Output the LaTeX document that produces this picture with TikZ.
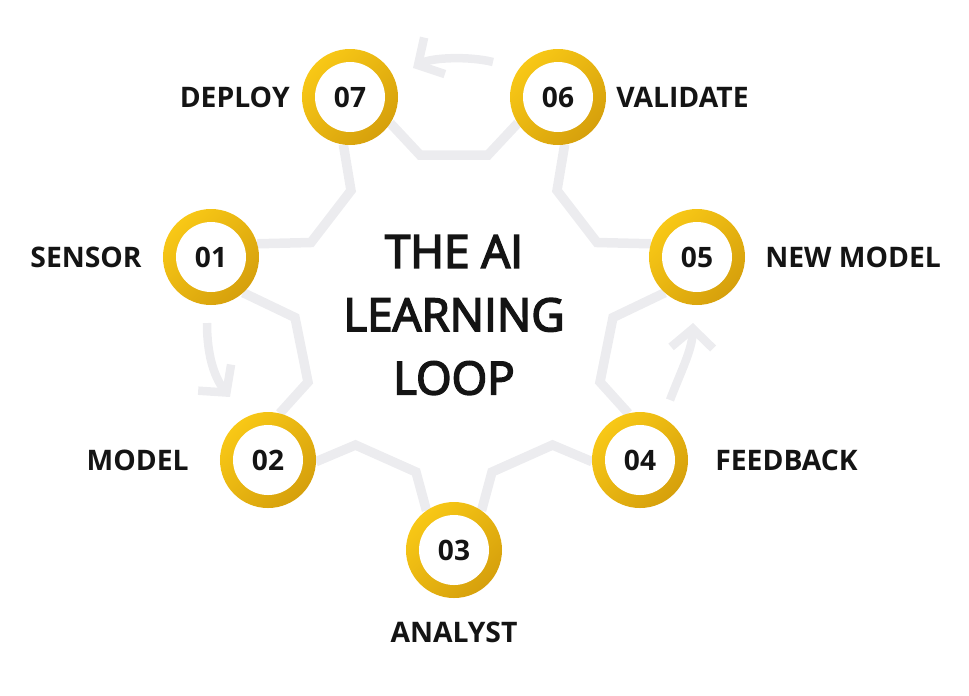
\documentclass[tikz,border=0pt]{standalone}
\usepackage{fontspec}
\setmainfont{Open Sans}
\newfontfamily\titlefont[FakeBold=3.5]{Open Sans}
\usetikzlibrary{arrows.meta,positioning,backgrounds}
\definecolor{loopGold}{RGB}{248,200,22}
\definecolor{loopGoldDark}{RGB}{214,160,12}
\definecolor{loopGray}{RGB}{236,236,239}
\definecolor{loopInk}{RGB}{20,20,20}

\tikzset{
  ring/.style={circle, minimum size=1.92cm, inner sep=0pt, outer sep=0pt,
    top color=loopGold, bottom color=loopGoldDark, shading angle=45,
    path picture={\fill[white] (path picture bounding box.center) circle (0.70cm);},
    text=loopInk, font=\fontsize{16}{18}\selectfont\bfseries},
  tag/.style={inner sep=0pt, text=loopInk, font=\fontsize{16.1}{19}\selectfont\bfseries},
  link/.style={loopGray, line width=0.19cm},
  turn/.style={loopGray, line width=0.17cm, -{Straight Barb[length=0.38cm, width=0.84cm]}}
}

\begin{document}
\begin{tikzpicture}
\useasboundingbox (-9.08,-7.30) rectangle (10.30,6.60);

% the seven steps
\node[ring] (c01) at (-4.86,1.46) {01};
\node[ring] (c02) at (-3.72,-2.60) {02};
\node[ring] (c03) at (0,-4.40) {03};
\node[ring] (c04) at (3.72,-2.60) {04};
\node[ring] (c05) at (4.86,1.46) {05};
\node[ring] (c06) at (2.08,4.66) {06};
\node[ring] (c07) at (-2.08,4.66) {07};

% step names
\node[tag, left=0.42cm of c01] (t01) {SENSOR};
\node[tag, left=0.62cm of c02] (t02) {MODEL};
\node[tag, below=0.48cm of c03] (t03) {ANALYST};
\node[tag, right=0.54cm of c04] (t04) {FEEDBACK};
\node[tag, right=0.40cm of c05] (t05) {NEW MODEL};
\node[tag, right=0.20cm of c06] (t06) {VALIDATE};
\node[tag, left=0.24cm of c07] (t07) {DEPLOY};

\node[text=loopInk, font=\titlefont\fontsize{26}{36}\selectfont, align=center] (title) at (0,0.30) {THE AI\\LEARNING\\LOOP};

% loop track behind the rings
\begin{scope}[on background layer]
\draw[link] (c01.16) -- (-2.86,1.75) -- (-2.06,2.79) -- (c07.262);
\draw[link] (c07.327) -- (-0.68,3.50) -- (0.68,3.50) -- (c06.213);
\draw[link] (c06.278) -- (2.06,2.79) -- (2.86,1.75) -- (c05.164);
\draw[link] (c05.228) -- (3.18,0.25) -- (2.92,-1.04) -- (c04.104);
\draw[link] (c04.182) -- (1.97,-2.30) -- (0.76,-2.84) -- (c03.55);
\draw[link] (c03.125) -- (-0.76,-2.84) -- (-1.97,-2.30) -- (c02.358);
\draw[link] (c02.76) -- (-2.92,-1.04) -- (-3.18,0.25) -- (c01.312);
\end{scope}

% turning arrows
\coordinate (a1s) at (-4.94,0.14);
\coordinate (a1e) at (-4.48,-1.34);
\coordinate (a2s) at (4.32,-1.40);
\coordinate (a2e) at (4.78,0.14);
\coordinate (a3s) at (0.78,5.36);
\coordinate (a3e) at (-0.82,5.24);
\draw[turn] (a1s) .. controls (-4.94,-0.60) and (-4.75,-1.00) .. (a1e);
\draw[turn] (a2s) .. controls (4.55,-0.80) and (4.76,-0.40) .. (a2e);
\draw[turn] (a3s) .. controls (0.30,5.48) and (-0.45,5.45) .. (a3e);
\end{tikzpicture}
\end{document}
